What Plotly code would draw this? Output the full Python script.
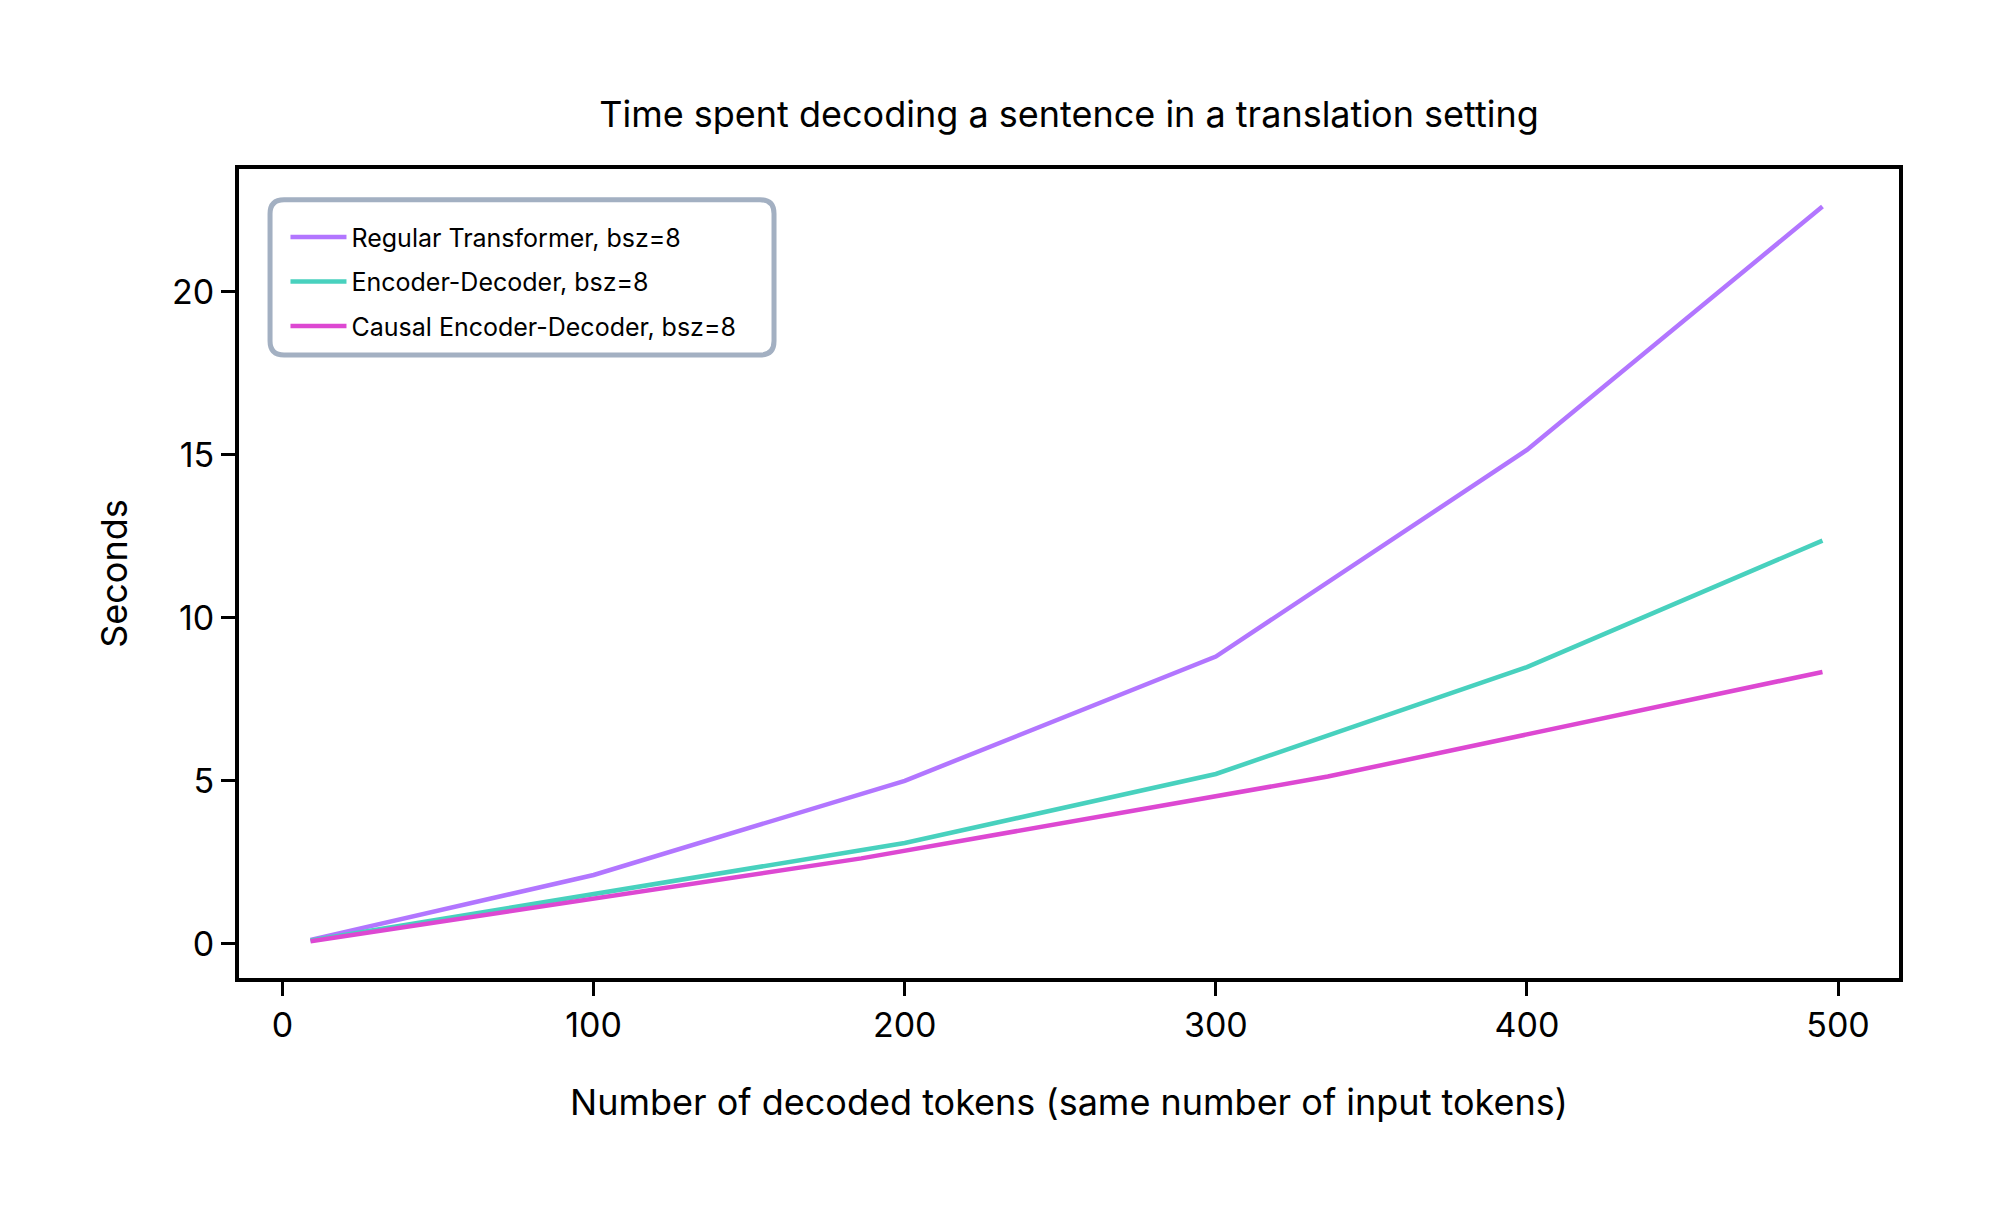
import plotly.graph_objects as go

# Data
series_names = ["Regular Transformer, bsz=8", "Encoder-Decoder, bsz=8", "Causal Encoder-Decoder, bsz=8"]

regular_x = [9, 100, 200, 300, 400, 495]
regular_y = [0.12, 2.11, 5.0, 8.81, 15.15, 22.62]

encdec_x = [9, 200, 300, 400, 495]
encdec_y = [0.1, 3.09, 5.21, 8.49, 12.37]

causal_x = [9, 186, 336, 495]
causal_y = [0.08, 2.62, 5.13, 8.34]

colors = ["#b276ff", "#48d1be", "#dd48d2"]

x_ticks = [0, 100, 200, 300, 400, 500]
y_ticks = [0, 5, 10, 15, 20]

FONT = "Inter"

fig = go.Figure()
for i, (name, xs, ys, c) in enumerate(zip(series_names,
                                          [regular_x, encdec_x, causal_x],
                                          [regular_y, encdec_y, causal_y],
                                          colors)):
    fig.add_trace(go.Scatter(x=xs, y=ys, mode="lines", name=name,
                             legendgroup=f"g{i}",
                             line=dict(color=c, width=4.5)))

# rounded legend box (paper coords)
x0, x1, y0, y1 = 0.0187, 0.3223, 0.770, 0.962
rx, ry = 14 / 1660, 14 / 809
path = (f"M {x0+rx},{y1} L {x1-rx},{y1} Q {x1},{y1} {x1},{y1-ry} "
        f"L {x1},{y0+ry} Q {x1},{y0} {x1-rx},{y0} "
        f"L {x0+rx},{y0} Q {x0},{y0} {x0},{y0+ry} "
        f"L {x0},{y1-ry} Q {x0},{y1} {x0+rx},{y1} Z")
fig.add_shape(type="path", path=path, xref="paper", yref="paper",
              line=dict(color="#a3b0c2", width=5), fillcolor="white", layer="above")

fig.update_layout(
    width=2000, height=1222,
    margin=dict(l=231, r=109, t=161, b=252),
    paper_bgcolor="white", plot_bgcolor="white",
    font=dict(family=FONT, color="black"),
    title=dict(text="Time spent decoding a sentence in a translation setting",
               x=0.5, xref="paper", xanchor="center",
               y=1 - 106 / 1222, yref="container", yanchor="middle",
               font=dict(size=36, family=FONT, color="black")),
    showlegend=True,
    legend=dict(x=0.028, y=0.944, xanchor="left", yanchor="top",
                bgcolor="rgba(0,0,0,0)", borderwidth=0,
                font=dict(size=25, family=FONT, color="black"),
                tracegroupgap=9, itemwidth=56),
    xaxis=dict(range=[-14, 519.6], tickvals=x_ticks, ticktext=[str(v) for v in x_ticks],
               showgrid=False, zeroline=False,
               showline=True, linecolor="black", linewidth=4, mirror=True,
               ticks="outside", ticklen=14, tickwidth=3, tickcolor="black",
               tickfont=dict(size=34, family=FONT, color="black"),
               title=dict(text="Number of decoded tokens (same number of input tokens)",
                          font=dict(size=36, family=FONT, color="black"), standoff=47)),
    yaxis=dict(range=[-1.05, 23.77], tickvals=y_ticks, ticktext=[str(v) for v in y_ticks],
               showgrid=False, zeroline=False,
               showline=True, linecolor="black", linewidth=4, mirror=True,
               ticks="outside", ticklen=14, tickwidth=3, tickcolor="black",
               tickfont=dict(size=34, family=FONT, color="black"),
               title=dict(text="Seconds", font=dict(size=36, family=FONT, color="black"),
                          standoff=34)),
)

fig.write_html("out.html")
